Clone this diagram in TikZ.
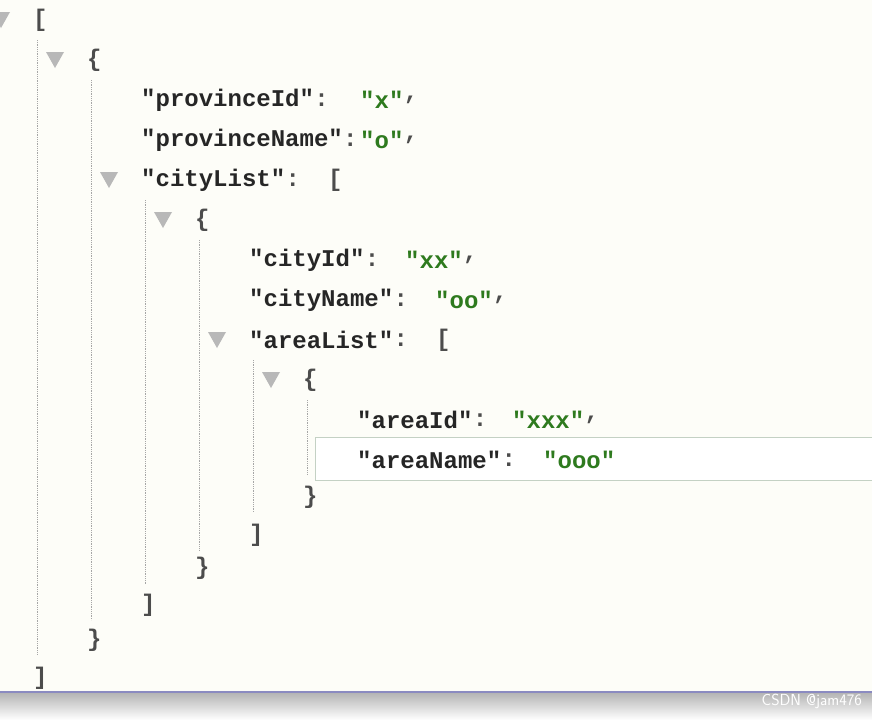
\documentclass[tikz,border=0pt]{standalone}
\usepackage{fontspec}
\setmonofont{Liberation Mono}
\begin{document}
\begin{tikzpicture}[x=1pt,y=-1pt,
  txt/.style={anchor=west,inner sep=0,font=\ttfamily\bfseries\fontsize{24}{24}\selectfont},
  key/.style={txt,text=black!85},
  val/.style={txt,text=valgreen},
  pun/.style={txt,text=black!70},
  tri/.style={fill=black!28,draw=none},
  guide/.style={draw=black!35,densely dotted,line width=0.8pt}]
\definecolor{valgreen}{HTML}{2E7A1E}
\definecolor{bgc}{HTML}{FDFDF8}
\useasboundingbox (0,0) rectangle (872,720);
\fill[bgc] (0,0) rectangle (872,692);
\shade[top color=black!30,bottom color=white] (0,692) rectangle (872,720);
\draw[line width=1.5pt,draw=blue!30!gray!70] (0,692) -- (872,692);
\node[anchor=east,inner sep=0,text=white,font=\sffamily\fontsize{16}{16}\selectfont] (wm) at (862,701) {CSDN @jam476};
% highlight
\draw[fill=white,draw=black!15!green!15!gray!40] (315,437) rectangle (873,480);
% triangles
\foreach \n/\x/\y in {t0/1/20,t1/55/60,t2/109/180,t3/163/220,t4/217/340,t5/271/380}{
  \fill[tri] (\x-9,\y-8) -- (\x+9,\y-8) -- (\x,\y+8) -- cycle;}
% guides
\foreach \x/\a/\b in {37/40/655,91/80/620,145/200/585,199/240/550,253/360/512,307/400/475}{
  \draw[guide] (\x,\a) -- (\x,\b);}
% brackets
\node[pun] (b1) at (33,20) {[};
\node[pun] (b2) at (87,60) {\{};
\node[key] (k1) at (141,100) {"provinceId"};
\node[pun] at (k1.east) [anchor=west] {:};
\node[val] (v1) at (360,100) {"x"};
\node[pun] at (v1.east) [anchor=west] {,};
\node[key] (k2) at (141,140) {"provinceName"};
\node[pun] at (k2.east) [anchor=west] {:};
\node[val] (v2) at (360,140) {"o"};
\node[pun] at (v2.east) [anchor=west] {,};
\node[key] (k3) at (141,180) {"cityList"};
\node[pun] at (k3.east) [anchor=west] {:};
\node[pun] (b3) at (328,180) {[};
\node[pun] (b4) at (195,220) {\{};
\node[key] (k4) at (249,260) {"cityId"};
\node[pun] at (k4.east) [anchor=west] {:};
\node[val] (v4) at (405,260) {"xx"};
\node[pun] at (v4.east) [anchor=west] {,};
\node[key] (k5) at (249,300) {"cityName"};
\node[pun] at (k5.east) [anchor=west] {:};
\node[val] (v5) at (435,300) {"oo"};
\node[pun] at (v5.east) [anchor=west] {,};
\node[key] (k6) at (249,340) {"areaList"};
\node[pun] at (k6.east) [anchor=west] {:};
\node[pun] (b5) at (436,340) {[};
\node[pun] (b6) at (303,380) {\{};
\node[key] (k7) at (357,420) {"areaId"};
\node[pun] at (k7.east) [anchor=west] {:};
\node[val] (v7) at (512,420) {"xxx"};
\node[pun] at (v7.east) [anchor=west] {,};
\node[key] (k8) at (357,460) {"areaName"};
\node[pun] at (k8.east) [anchor=west] {:};
\node[val] (v8) at (543,460) {"ooo"};
\node[pun] (c6) at (303,497) {\}};
\node[pun] (c5) at (249,535) {]};
\node[pun] (c4) at (195,568) {\}};
\node[pun] (c3) at (141,605) {]};
\node[pun] (c2) at (87,640) {\}};
\node[pun] (c1) at (33,678) {]};
\end{tikzpicture}
\end{document}
